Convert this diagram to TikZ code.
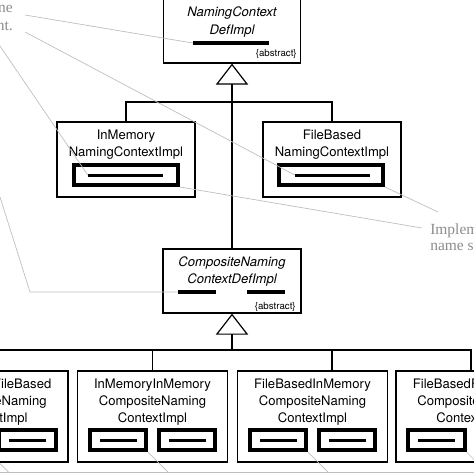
\documentclass[tikz,border=0pt]{standalone}
\usepackage{fontspec}
\newfontfamily\classfont{TeX Gyre Heros}
\newfontfamily\notefont{Liberation Serif}
\usetikzlibrary{arrows.meta, calc}
\colorlet{leadgray}{black!25}
\colorlet{notegray}{black!45}
\def\pxu{0.025cm}
\tikzset{
  classbox/.style 2 args={draw, line width=0.85pt, inner sep=0pt,
    minimum width=#1*\pxu, minimum height=#2*\pxu},
  classname/.style={font=\classfont\fontsize{9.3}{12.3}\selectfont,
    align=center, inner sep=0pt},
  absname/.style={font=\classfont\itshape\fontsize{9.3}{12.3}\selectfont,
    align=center, inner sep=0pt},
  tagtext/.style={font=\classfont\fontsize{6.9}{8}\selectfont,
    inner sep=0pt, anchor=base east},
  slot/.style 2 args={draw, line width=2.5pt, inner sep=0pt,
    minimum width=#1*\pxu, minimum height=#2*\pxu},
  bar/.style 2 args={fill, inner sep=0pt,
    minimum width=#1*\pxu, minimum height=#2*\pxu},
  tree/.style={line width=0.85pt},
  inherit/.style={line width=0.85pt, -{Triangle[open, length=15pt, width=23pt]}},
  lead/.style={leadgray, line width=0.5pt},
  note/.style={notegray, font=\notefont\fontsize{11}{12}\selectfont, inner sep=0pt},
}

\begin{document}
\begin{tikzpicture}[x=\pxu, y=-\pxu]
\useasboundingbox (0,0) rectangle (474,474);
\clip (0,0) rectangle (474,474);

% ── grey notes and their lead lines ──────────────────────────────────────────
\node[note, anchor=base east] (lnote1) at (13,12) {ne};
\node[note, anchor=base east] (lnote2) at (13,30) {nt.};
\node[note, anchor=base west] (rnote1) at (430,234) {Implementations};
\node[note, anchor=base west] (rnote2) at (430,250) {name space};

\coordinate (lead-a) at (25,15);
\coordinate (lead-b) at (25,32);
\coordinate (lead-c) at (0,46);
\coordinate (lead-d) at (0,197);
\coordinate (lead-d2) at (30,292);
\coordinate (lead-e) at (422,228);
\coordinate (lead-f) at (438,212);
\coordinate (lead-g1) at (-5,472.5);
\coordinate (lead-g2) at (480,472.5);

% ── NamingContextDefImpl ──────────────────────────────────────────────────────
\node[classbox={137}{64}] (ncdi) at (232,31) {};
\node[absname] (ncdi-name) at (232,22) {NamingContext\\DefImpl};
\node[bar={76}{4}] (ncdi-bar) at (231,43) {};
\node[tagtext] (ncdi-tag) at (297,56) {\{abstract\}};

% ── first level ──────────────────────────────────────────────────────────────
\node[classbox={138}{75}] (imnci) at (126,159.5) {};
\node[classname] (imnci-name) at (126,145) {InMemory\\NamingContextImpl};
\node[slot={104.5}{20.5}] (imnci-slot) at (126,175) {};
\node[bar={75}{3}] (imnci-bar) at (125.5,175) {};

\node[classbox={138}{75}] (fbnci) at (332,159.5) {};
\node[classname] (fbnci-name) at (332,145) {FileBased\\NamingContextImpl};
\node[slot={104.5}{20.5}] (fbnci-slot) at (331,175) {};
\node[bar={75}{3}] (fbnci-bar) at (332.5,175) {};

\coordinate (jtop) at (232,102);
\draw[tree] (imnci.north) |- (jtop) -| (fbnci.north);

% ── CompositeNamingContextDefImpl ────────────────────────────────────────────
\node[classbox={138}{64}] (cndi) at (232,281) {};
\node[absname] (cndi-name) at (232,271.5) {CompositeNaming\\ContextDefImpl};
\node[bar={38}{4}] (cndi-bar1) at (197,292) {};
\node[bar={38}{4}] (cndi-bar2) at (265.5,292) {};
\node[tagtext] (cndi-tag) at (296,309) {\{abstract\}};

\draw[inherit] (cndi.north) -- (ncdi.south);

% ── second level ─────────────────────────────────────────────────────────────
\coordinate (jbot) at (232,350);
\draw[inherit] (jbot) -- (cndi.south);
\foreach \cx/\id/\first in {-7/imfb/InMemoryFileBased, 152.5/imim/InMemoryInMemory,
                             312.5/fbim/FileBasedInMemory, 471/fbfb/FileBasedFileBased} {
  \node[classbox={150}{91}] (\id) at (\cx,416.5) {};
  \node[classname] (\id-name) at (\cx,402) {\first\\CompositeNaming\\ContextImpl};
  \node[slot={56.5}{20.5}] (\id-slot1) at (\cx-34.5,440) {};
  \node[slot={56.5}{20.5}] (\id-slot2) at (\cx+34.5,440) {};
  \node[bar={37}{3}] (\id-bar1) at (\cx-34.5,440) {};
  \node[bar={37}{3}] (\id-bar2) at (\cx+34.5,440) {};
}
\draw[tree] (imfb.north) |- (jbot) -| (fbfb.north);
\draw[tree] (imim.north) -- (imim.north |- jbot);
\draw[tree] (fbim.north -| fbnci.north) -- (jbot -| fbnci.north);

% lead lines
\draw[lead] (lead-a) -- (ncdi-bar.west);
\draw[lead] (lead-b) -- (fbnci-bar.west);
\draw[lead] (lead-c) -- (imnci-bar.west);
\draw[lead] (lead-d) -- (lead-d2) -- (cndi-bar1.west);
\draw[lead] (imnci-slot.south east) -- (lead-e);
\draw[lead] (fbnci-slot.south east) -- (lead-f);
\draw[lead] (lead-g1) -- (lead-g2);
\foreach \id in {imfb, imim, fbim, fbfb}
  \draw[lead] (\id-slot1.south east) -- ++(20,20);

\end{tikzpicture}
\end{document}
